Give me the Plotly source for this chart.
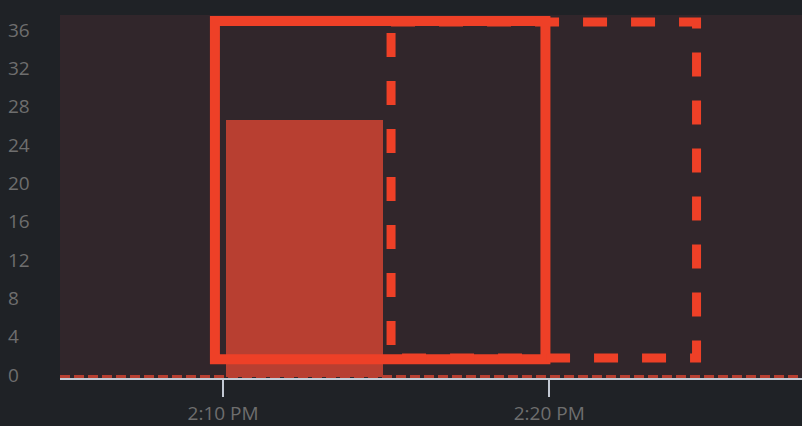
import plotly.graph_objects as go

# ── DATA ──────────────────────────────────────────────────────
bar_times = ["2024-01-01 14:12:30"]
bar_values = [26.84]
bar_width_ms = 290000

solid_box_x = ["2024-01-01 14:09:45", "2024-01-01 14:19:53"]
solid_box_y = [37.18, 1.83]
dashed_box_x = ["2024-01-01 14:15:09", "2024-01-01 14:24:31"]
dashed_box_y = [37.08, 1.98]

baseline_y = 0
x_range = ["2024-01-01 14:05:00", "2024-01-01 14:27:45"]
y_range = [-0.12, 37.8]
y_ticks = [0, 4, 8, 12, 16, 20, 24, 28, 32, 36]

# ── COLOURS ───────────────────────────────────────────────────
PAPER = "#1f2226"
PLOT = "#31262b"
BAR = "#b83f31"
BOX = "#ee4027"
LABEL = "#6e6e6e"

fig = go.Figure()
fig.add_trace(go.Bar(x=bar_times, y=bar_values, width=[bar_width_ms] * len(bar_times),
                     marker=dict(color=BAR, line=dict(width=0)), showlegend=False))

# baseline at zero (dashed, above the axis line)
fig.add_shape(type="line", xref="x domain", x0=0, x1=1, yref="y",
              y0=baseline_y, y1=baseline_y, layer="above",
              line=dict(color=BAR, width=3.5, dash="10px,4px"))

fig.add_shape(type="rect", xref="x", yref="y",
              x0=solid_box_x[0], x1=solid_box_x[1],
              y0=solid_box_y[0], y1=solid_box_y[1],
              line=dict(color=BOX, width=10), layer="above")
fig.add_shape(type="rect", xref="x", yref="y",
              x0=dashed_box_x[0], x1=dashed_box_x[1],
              y0=dashed_box_y[0], y1=dashed_box_y[1],
              line=dict(color=BOX, width=9, dash="24px,24px"), layer="above")

fig.update_layout(
    width=802, height=426,
    margin=dict(l=0, r=0, t=15, b=48),
    paper_bgcolor=PAPER, plot_bgcolor=PLOT,
    font=dict(family="Open Sans", size=19, color=LABEL),
    bargap=0,
    xaxis=dict(type="date", range=x_range, domain=[60 / 802, 1],
               tick0="2024-01-01 14:00:00", dtick=600000, tickformat="%-I:%M %p",
               tickfont=dict(color=LABEL),
               ticks="outside", ticklen=17, tickwidth=1.5, tickcolor="#c3c9d3",
               showline=True, linecolor="#c3c9d3", linewidth=1.5,
               showgrid=False, zeroline=False),
    # left-aligned labels: a right-side axis pinned to the left edge
    yaxis=dict(range=y_range, anchor="free", position=0, side="right",
               tickvals=y_ticks, tickfont=dict(color=LABEL), ticklabelstandoff=7,
               ticklabelshift=-2,
               ticks="", showline=False, showgrid=False, zeroline=False),
)

fig.write_html("out.html", config={"displayModeBar": False},
               post_script="document.body.style.margin='0';")
